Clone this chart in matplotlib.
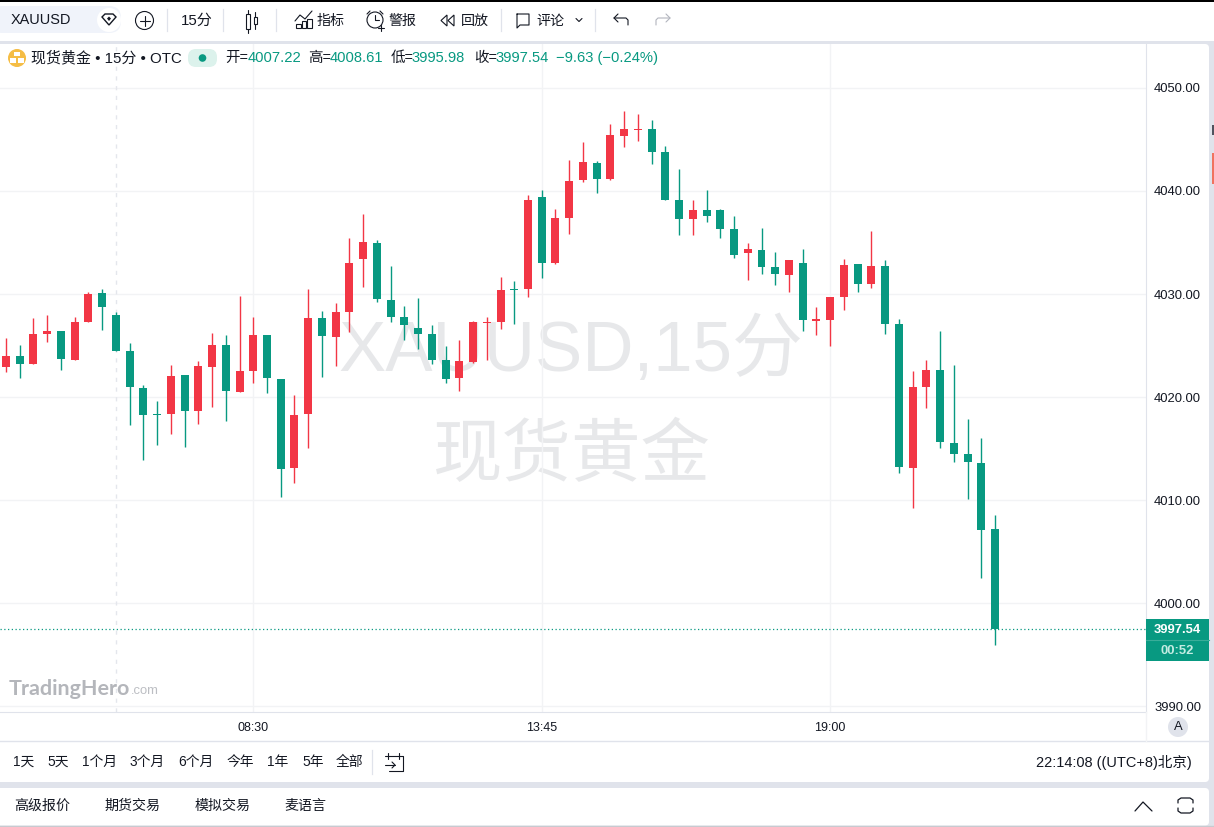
import numpy as np
import matplotlib
matplotlib.use('Agg')
import matplotlib.pyplot as plt
from matplotlib.patches import Circle, FancyBboxPatch, Rectangle, Polygon

plt.rcParams['font.family'] = ['Liberation Sans', 'Noto Sans CJK SC', 'DejaVu Sans']

# 15 minute candles
opens = [4022.95, 4023.99, 4023.25, 4026.12, 4026.41, 4023.63, 4027.32, 4030.10, 4027.97, 4024.47,
         4020.89, 4018.36, 4018.40, 4022.15, 4018.69, 4022.95, 4025.06, 4020.53, 4022.57, 4026.03,
         4021.76, 4013.16, 4018.40, 4027.67, 4025.86, 4028.29, 4033.43, 4034.95, 4029.42, 4027.77,
         4026.70, 4026.12, 4023.60, 4021.89, 4023.44, 4027.22, 4027.32, 4030.49, 4030.52, 4039.41,
         4033.04, 4037.41, 4041.09, 4042.71, 4041.19, 4045.36, 4045.91, 4046.01, 4043.77, 4039.12,
         4037.31, 4038.15, 4038.15, 4036.31, 4034.01, 4034.27, 4032.62, 4031.88, 4033.01, 4027.42,
         4027.51, 4029.74, 4032.91, 4031.00, 4032.72, 4027.09, 4013.16, 4021.01, 4022.63, 4015.55,
         4014.48, 4013.61, 4007.22]
highs = [4025.70, 4025.06, 4027.64, 4027.97, 4026.41, 4027.77, 4030.20, 4030.49, 4028.26, 4025.25,
         4021.18, 4019.62, 4023.12, 4022.15, 4023.50, 4026.22, 4026.03, 4029.81, 4027.77, 4026.03,
         4021.76, 4020.21, 4030.49, 4028.35, 4029.13, 4035.43, 4037.76, 4035.24, 4032.72, 4028.84,
         4029.61, 4027.00, 4024.96, 4025.54, 4027.38, 4027.77, 4031.65, 4031.26, 4039.60, 4040.09,
         4038.25, 4043.00, 4044.74, 4042.90, 4046.49, 4047.75, 4047.46, 4046.88, 4044.36, 4042.13,
         4039.12, 4040.09, 4038.25, 4037.57, 4034.95, 4036.40, 4034.08, 4033.30, 4034.37, 4028.74,
         4029.71, 4033.40, 4032.91, 4036.11, 4033.30, 4027.58, 4022.53, 4023.60, 4026.41, 4023.12,
         4017.88, 4016.04, 4008.61]
lows = [4022.47, 4021.89, 4023.25, 4025.38, 4022.66, 4023.63, 4027.32, 4026.54, 4024.51, 4017.33,
        4013.93, 4015.39, 4016.46, 4015.20, 4017.43, 4019.07, 4017.72, 4020.53, 4021.40, 4020.43,
        4010.35, 4011.70, 4015.10, 4021.98, 4023.05, 4026.35, 4030.71, 4029.26, 4027.32, 4025.57,
        4024.70, 4023.25, 4021.40, 4020.63, 4023.34, 4023.63, 4026.64, 4027.12, 4029.74, 4031.59,
        4032.94, 4035.85, 4040.90, 4039.83, 4041.09, 4044.29, 4044.87, 4042.64, 4039.15, 4035.76,
        4035.76, 4037.02, 4035.47, 4033.53, 4031.39, 4031.97, 4030.91, 4030.23, 4026.45, 4026.06,
        4024.99, 4028.48, 4030.23, 4030.62, 4026.16, 4012.67, 4009.28, 4018.98, 4015.10, 4013.74,
        4010.15, 4002.49, 3995.98]
closes = [4023.99, 4023.25, 4026.12, 4026.41, 4023.73, 4027.29, 4030.00, 4028.77, 4024.51, 4021.01,
          4018.30, 4018.27, 4022.05, 4018.69, 4023.02, 4025.06, 4020.63, 4022.53, 4026.03, 4021.89,
          4013.06, 4018.27, 4027.67, 4025.96, 4028.26, 4033.01, 4035.05, 4029.55, 4027.80, 4027.03,
          4026.16, 4023.63, 4021.79, 4023.50, 4027.29, 4027.32, 4030.39, 4030.42, 4039.12, 4033.04,
          4037.37, 4040.96, 4042.81, 4041.19, 4045.42, 4046.01, 4046.01, 4043.81, 4039.15, 4037.31,
          4038.15, 4037.60, 4036.34, 4033.82, 4034.37, 4032.65, 4031.97, 4033.30, 4027.51, 4027.58,
          4029.71, 4032.81, 4031.00, 4032.72, 4027.12, 4013.26, 4020.98, 4022.63, 4015.68, 4014.52,
          4013.74, 4007.15, 3997.54]

price_ticks = [3990, 4000, 4010, 4020, 4030, 4040, 4050]
time_tick_idx = [18, 39, 60]
time_labels = ['08:30', '13:45', '19:00']
session_break = 8

ranges = ['1天', '5天', '1个月', '3个月', '6个月', '今年', '1年', '5年', '全部']
range_x = [13, 47, 82, 130, 178, 227, 267, 302, 336]
tabs = ['高级报价', '期货交易', '模拟交易', '麦语言']
tab_x = [15, 105, 195, 285]

RED = '#f23645'
GREEN = '#089981'
DARK = '#131722'
LINE = '#e0e3eb'
GRID = '#f2f3f5'
PILL = '#f0f3fa'

W, H = 1214, 827
fig = plt.figure(figsize=(W / 100, H / 100), dpi=100, facecolor='white')

# page background, panels
bg = fig.add_axes([0, 0, 1, 1], zorder=0)
bg.set_xlim(0, W)
bg.set_ylim(H, 0)
bg.axis('off')
bg.add_patch(Rectangle((0, 41), W, H - 41, color=LINE, lw=0))
bg.add_patch(FancyBboxPatch((-10, 44), 1219, 738, boxstyle='round,pad=0,rounding_size=4', color='white', lw=0))
bg.add_patch(FancyBboxPatch((-10, 788), 1219, 37.5, boxstyle='round,pad=0,rounding_size=4', color='white', lw=0))
bg.add_patch(Rectangle((0, 0), W, 1.5, color='black', lw=0))
bg.add_patch(Rectangle((1212, 125), 2, 10, color='#50535e', lw=0))
bg.add_patch(Rectangle((1212, 153), 2, 31, color='#f0735f', lw=0))

# candle chart
ax = fig.add_axes([0, (H - 712) / H, 1146 / W, 668 / H], zorder=1)
ax.set_facecolor('none')
x = np.arange(len(opens))
o = np.array(opens)
h = np.array(highs)
l = np.array(lows)
c = np.array(closes)
colors = [RED if cc > oo else GREEN for oo, cc in zip(o, c)]
ax.vlines(x, l, h, colors=colors, lw=1.0, zorder=3)
ax.bar(x, np.abs(c - o), bottom=np.minimum(o, c), width=0.58, color=colors, lw=0, zorder=4)
ax.axhline(closes[-1], color=GREEN, lw=0.9, ls=(0, (1, 2)), zorder=2)
ax.axvline(session_break, color='#e4e6ec', lw=1.0, ls=(0, (3, 4)), zorder=1)

ax.set_xlim(-0.437, 82.99)
ax.set_ylim(3989.46, 4054.25)
ax.set_xticks(time_tick_idx, time_labels)
ax.set_yticks(price_ticks, [f'{p:.2f}' for p in price_ticks])
ax.yaxis.tick_right()
ax.tick_params(axis='y', length=0, pad=5.8, labelsize=9.4, labelcolor=DARK)
ax.tick_params(axis='x', length=0, pad=7.0, labelsize=9, labelcolor=DARK)
ax.grid(True, color=GRID, lw=1.0, zorder=0)
ax.set_axisbelow(True)
for s in ['top', 'left']:
    ax.spines[s].set_visible(False)
ax.spines['right'].set_color(LINE)
ax.spines['bottom'].set_color(LINE)
ax.text(571 / 1146, 1 - (352 - 44) / 668, 'XAUUSD,15分', transform=ax.transAxes, ha='center', va='center',
        fontsize=51, color='#e7e8ea', zorder=0.5)
ax.text(572 / 1146, 1 - (457 - 44) / 668, '现货黄金', transform=ax.transAxes, ha='center', va='center',
        fontsize=50, color='#e7e8ea', zorder=0.5)

# everything around the chart, in pixels
ui = fig.add_axes([0, 0, 1, 1], zorder=2)
ui.set_xlim(0, W)
ui.set_ylim(H, 0)
ui.axis('off')
ui.patch.set_alpha(0)


def txt(px, py, s, size=14, color=DARK, ha='left', **kw):
    ui.text(px, py + 1, s, fontsize=size * 0.72, color=color, ha=ha, va='center', **kw)


def stroke(xs, ys, color=DARK, lw=0.8):
    ui.plot(xs, ys, color=color, lw=lw, solid_capstyle='round')


# toolbar
ui.add_patch(FancyBboxPatch((-10, 6), 131, 27, boxstyle='round,pad=0,rounding_size=12', color=PILL, lw=0))
ui.add_patch(Circle((109, 20), 12, color='white', lw=0))
txt(11, 19.5, 'XAUUSD', 14.5)
ui.add_patch(Polygon([[102, 17], [105, 14], [113, 14], [116, 17], [109, 25]], fill=False, ec=DARK, lw=1.0))
ui.add_patch(Polygon([[107, 18.5], [109, 16.5], [111, 18.5], [109, 21]], color=DARK, lw=0))
ui.add_patch(Circle((144.5, 20.5), 9, fill=False, ec=DARK, lw=0.8))
stroke([139.5, 149.5], [20.5, 20.5])
stroke([144.5, 144.5], [15.5, 25.5])
txt(181, 19.5, '15分', 15)
for sx in [167, 223, 276, 501, 595]:
    ui.plot([sx, sx], [9, 31], color=LINE, lw=0.9)
ui.add_patch(Rectangle((245.5, 14), 4, 15, fill=False, ec=DARK, lw=0.8))
stroke([247.5, 247.5], [10, 14])
stroke([247.5, 247.5], [29, 33])
ui.add_patch(Rectangle((253.5, 17), 3.5, 7, fill=False, ec=DARK, lw=0.8))
stroke([255.2, 255.2], [12, 17])
stroke([255.2, 255.2], [24, 29])
stroke([295, 300, 305, 312], [21, 15, 19, 11])
for bx, top in [(296, 24), (301.5, 21), (307, 19)]:
    ui.add_patch(Rectangle((bx, top), 4.5, 28 - top, fill=False, ec=DARK, lw=0.8))
txt(317, 19.5, '指标')
ui.add_patch(Circle((375, 20), 8, fill=False, ec=DARK, lw=0.8))
stroke([375, 375, 379], [15, 20, 20])
stroke([367, 370], [14, 11])
stroke([380, 383], [11, 14])
stroke([378, 384], [28, 28])
stroke([381, 381], [25, 31])
txt(389, 19.5, '警报')
ui.add_patch(Polygon([[447, 15], [441, 20.5], [447, 26]], fill=False, ec=DARK, lw=0.8))
ui.add_patch(Polygon([[454, 15], [448, 20.5], [454, 26]], fill=False, ec=DARK, lw=0.8))
txt(461, 19.5, '回放')
stroke([517, 529, 529, 520, 517, 517], [14, 14, 25, 25, 28, 14])
txt(536, 19.5, '评论')
stroke([576, 579, 582], [18.5, 21.5, 18.5])
stroke([614, 626, 628, 628], [18, 18, 20, 25])
stroke([618, 614, 618], [14, 18, 22])
stroke([670, 658, 656, 656], [18, 18, 20, 25], color='#b2b5be')
stroke([666, 670, 666], [14, 18, 22], color='#b2b5be')

# legend row
ui.add_patch(Circle((17, 58), 9, color='#f5bd45', lw=0))
for tx, ty in [(17, 53.5), (13, 60), (21, 60)]:
    ui.add_patch(Rectangle((tx - 3, ty - 2), 6, 4.5, color='white', lw=0))
txt(31, 57, '现货黄金 • 15分 • OTC', 15)
ui.add_patch(FancyBboxPatch((188, 49), 29, 18, boxstyle='round,pad=0,rounding_size=8', color='#dcf2ec', lw=0))
ui.add_patch(Circle((202.5, 58), 3.8, color=GREEN, lw=0))
for lx, lab, vx, val in [(225, '开=', 248, f'{opens[-1]:.2f}'), (308, '高=', 329.5, f'{highs[-1]:.2f}'),
                         (390.5, '低=', 412, f'{lows[-1]:.2f}'), (474.5, '收=', 495.5, f'{closes[-1]:.2f}')]:
    txt(lx, 57, lab, 14.5)
    txt(vx, 57, val, 14.8, GREEN)
txt(556, 57, '−9.63 (−0.24%)', 14.8, GREEN)

# last price tag
ui.add_patch(Rectangle((1146, 619), 63, 42, color=GREEN, lw=0))
ui.plot([1146, 1209], [640, 640], color='#3aad99', lw=0.8)
txt(1177.5, 629, f'{closes[-1]:.2f}', 13, 'white', ha='center', fontweight='bold')
txt(1177.5, 650, '00:52', 13, '#c4ece2', ha='center', fontweight='bold')

# logo
txt(9, 688, 'TradingHero', 21.5, '#b4b6bb', family=['Lato', 'DejaVu Sans'], fontweight='bold')
txt(131, 689.5, '.com', 13, '#bcbec3')

# lower bars
ui.plot([0, 1209], [741, 741], color=LINE, lw=1.0)
ui.plot([1146, 1146], [712, 741], color=GRID, lw=1.0)
ui.add_patch(Circle((1178, 727), 10, color=LINE, lw=0))
txt(1178, 726, 'A', 13, ha='center')
for r, rx in zip(ranges, range_x):
    txt(rx, 761, r, 13.8)
ui.plot([372, 372], [750, 774], color=LINE, lw=0.9)
stroke([385, 403, 403, 389], [756, 756, 771, 771])
stroke([388, 388], [753, 759])
stroke([399, 399], [753, 759])
stroke([385, 395], [765, 765])
stroke([392, 395, 392], [762, 765, 768])
txt(1036, 761, '22:14:08 ((UTC+8)北京)', 14.5)
for t, tx in zip(tabs, tab_x):
    txt(tx - 0.5, 805, t, 14)
stroke([1135, 1143, 1152], [811, 802, 811], lw=0.9)
stroke([1178, 1178, 1181, 1190, 1193, 1193], [803, 800, 798, 798, 800, 803], lw=0.9)
stroke([1178, 1178, 1181, 1190, 1193, 1193], [808, 811, 813, 813, 811, 808], lw=0.9)
ui.plot([0, W], [826, 826], color='#c8cad0', lw=1.0)

fig.savefig('out.png', dpi=100)
